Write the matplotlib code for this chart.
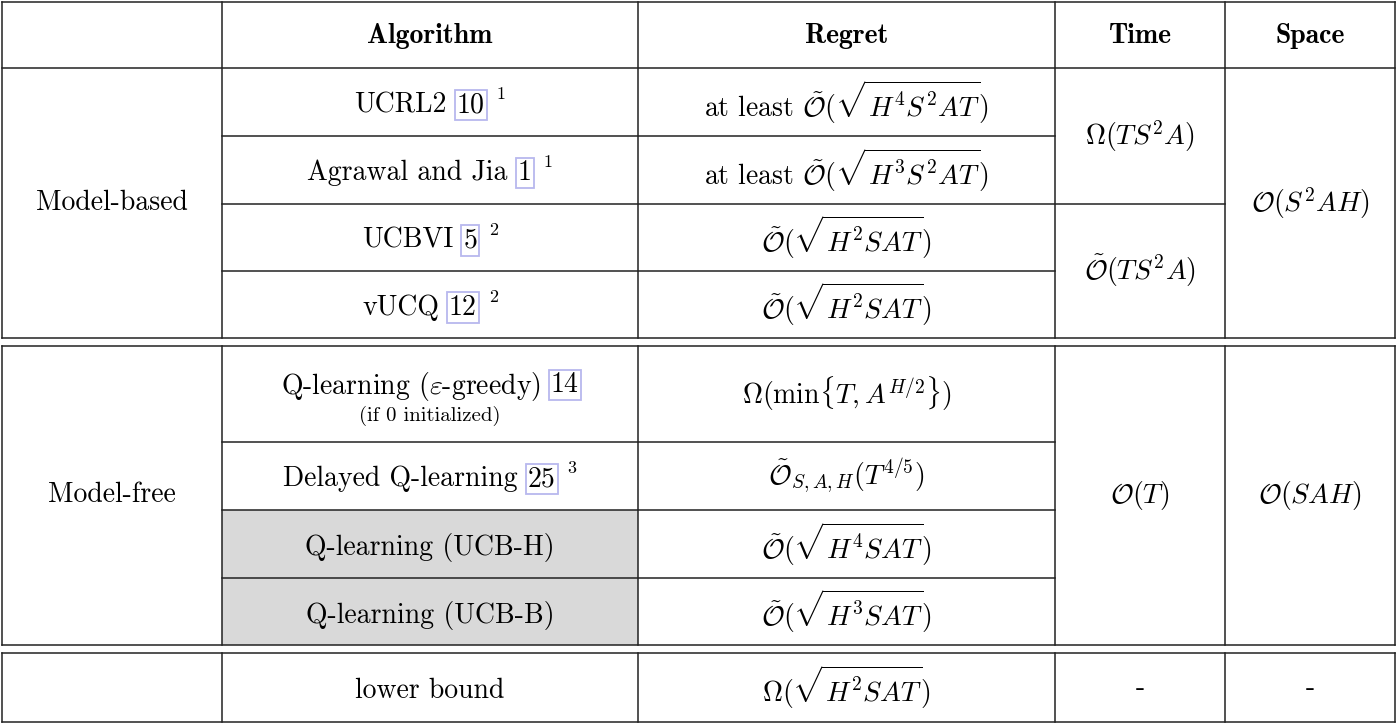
import matplotlib
matplotlib.use("Agg")
import matplotlib.pyplot as plt

plt.rcParams["font.family"] = "serif"
plt.rcParams["font.serif"] = ["cmr10"]
plt.rcParams["mathtext.fontset"] = "cm"
plt.rcParams["axes.formatter.use_mathtext"] = True

headers = ["Algorithm", "Regret", "Time", "Space"]
groups = ["Model-based", "Model-free", ""]
algorithms = ["UCRL2", "Agrawal and Jia", "UCBVI", "vUCQ",
              "Q-learning ($\\varepsilon$-greedy)", "Delayed Q-learning",
              "Q-learning (UCB-H)", "Q-learning (UCB-B)", "lower bound"]
cites = ["10", "1", "5", "12", "14", "25", None, None, None]
footnotes = ["1", "1", "2", "2", None, "3", None, None, None]
regrets = [r"at least $\tilde{\mathcal{O}}(\sqrt{H^4S^2AT})$",
           r"at least $\tilde{\mathcal{O}}(\sqrt{H^3S^2AT})$",
           r"$\tilde{\mathcal{O}}(\sqrt{H^2SAT})$",
           r"$\tilde{\mathcal{O}}(\sqrt{H^2SAT})$",
           r"$\Omega(\min\{T, A^{H/2}\})$",
           r"$\tilde{\mathcal{O}}_{S,A,H}(T^{4/5})$",
           r"$\tilde{\mathcal{O}}(\sqrt{H^4SAT})$",
           r"$\tilde{\mathcal{O}}(\sqrt{H^3SAT})$",
           r"$\Omega(\sqrt{H^2SAT})$"]
shaded = [False] * 6 + [True, True, False]
times = [r"$\Omega(TS^2A)$", r"$\tilde{\mathcal{O}}(TS^2A)$", r"$\mathcal{O}(T)$", "-"]
spaces = [r"$\mathcal{O}(S^2AH)$", r"$\mathcal{O}(SAH)$", "-"]

W, H = 1398, 725
xs = [2, 222, 638, 1055, 1225, 1395]
ys = [2, 68, 136, 204, 271, 338, 346, 442, 510, 578, 645, 653, 722]
row_bounds = [(68, 136), (136, 204), (204, 271), (271, 338),
              (346, 442), (442, 510), (510, 578), (578, 645), (653, 722)]
FS = 20
LC = "#222222"
LW = 1.1

fig = plt.figure(figsize=(W / 100, H / 100), dpi=100)
ax = fig.add_axes([0, 0, 1, 1])
ax.set_xlim(0, W)
ax.set_ylim(H, 0)
ax.axis("off")

# shading
for (y0, y1), s in zip(row_bounds, shaded):
    if s:
        ax.add_patch(plt.Rectangle((xs[1], y0), xs[2] - xs[1], y1 - y0,
                                   color="#d9d9d9", lw=0, zorder=0))

# horizontal lines
for y in [2, 68, 338, 346, 645, 653, 722]:
    ax.plot([xs[0], xs[5]], [y, y], color=LC, lw=LW)
for y in [136, 271, 442, 510, 578]:
    ax.plot([xs[1], xs[3]], [y, y], color=LC, lw=LW)
ax.plot([xs[1], xs[4]], [204, 204], color=LC, lw=LW)

# vertical lines per section
for (y0, y1) in [(2, 338), (346, 645), (653, 722)]:
    for x in xs:
        ax.plot([x, x], [y0, y1], color=LC, lw=LW)

fig.canvas.draw()
renderer = fig.canvas.get_renderer()
inv = ax.transData.inverted()


def width_of(t):
    bb = t.get_window_extent(renderer)
    (x0, _), (x1, _) = inv.transform([[bb.x0, 0], [bb.x1, 0]])
    return x1 - x0


def centered_pieces(cx, cy, pieces):
    # pieces: (text, kind) with kind in main/cite/sup
    arts = []
    for s, kind in pieces:
        if kind == "main":
            t = ax.text(0, cy, s, fontsize=FS, va="center_baseline", ha="left")
            gap = 0
        elif kind == "cite":
            t = ax.text(0, cy, s, fontsize=FS, va="center_baseline", ha="left",
                        bbox=dict(boxstyle="square,pad=0.08", fc="none",
                                  ec="#b8b8ee", lw=1.3))
            gap = 10
        else:
            t = ax.text(0, cy - 9, s, fontsize=13, va="center_baseline", ha="left")
            gap = 12
        arts.append((t, gap))
    total = sum(width_of(t) + g for t, g in arts)
    x = cx - total / 2
    for t, g in arts:
        x += g
        t.set_x(x)
        x += width_of(t)


for i, h in enumerate(headers):
    ax.text((xs[i + 1] + xs[i + 2]) / 2, 36, h, fontsize=FS, ha="center",
            va="center", family="cmb10")

for i, (y0, y1) in enumerate(row_bounds):
    cy = (y0 + y1) / 2
    pieces = [(algorithms[i], "main")]
    if cites[i]:
        pieces.append((cites[i], "cite"))
    if footnotes[i]:
        pieces.append((footnotes[i], "sup"))
    if i == 4:
        centered_pieces((xs[1] + xs[2]) / 2, cy - 12, pieces)
        ax.text((xs[1] + xs[2]) / 2, cy + 22, "(if 0 initialized)", fontsize=15,
                ha="center", va="center")
    else:
        centered_pieces((xs[1] + xs[2]) / 2, cy, pieces)
    ax.text((xs[2] + xs[3]) / 2, cy, regrets[i], fontsize=FS, ha="center",
            va="center")

ax.text(112, 203, groups[0], fontsize=FS, ha="center", va="center")
ax.text(112, 495, groups[1], fontsize=FS, ha="center", va="center")

time_cy = [136, 271, 495, 688]
for t, cy in zip(times, time_cy):
    ax.text((xs[3] + xs[4]) / 2, cy, t, fontsize=FS, ha="center", va="center")
space_cy = [203, 495, 688]
for s, cy in zip(spaces, space_cy):
    ax.text((xs[4] + xs[5]) / 2, cy, s, fontsize=FS, ha="center", va="center")

fig.savefig("out.png", dpi=100)
